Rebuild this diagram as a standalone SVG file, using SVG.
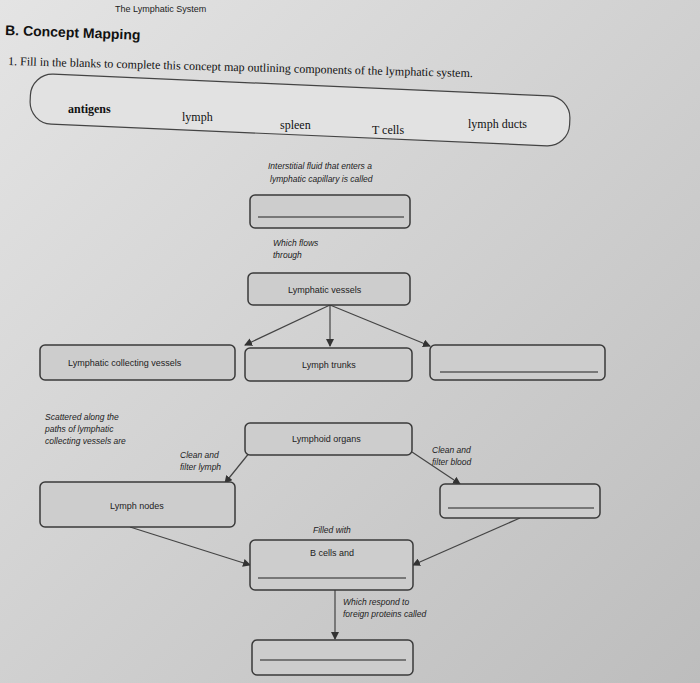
<svg xmlns="http://www.w3.org/2000/svg" width="700" height="683" viewBox="0 0 700 683">
<defs>
<linearGradient id="bg" x1="0" y1="0" x2="1" y2="1"><stop offset="0" stop-color="#e4e4e4"/><stop offset="1" stop-color="#bdbdbd"/></linearGradient>
<marker id="ah" markerWidth="8" markerHeight="8" refX="7" refY="4" orient="auto" markerUnits="userSpaceOnUse"><path d="M0,0 L8,4 L0,8 z" fill="#333"/></marker>
</defs>
<style>
.box{fill:#cdcdcd;stroke:#3a3a3a;stroke-width:1.5}
.t{font-family:"Liberation Sans",Arial,sans-serif;font-size:9px;fill:#222}
.i{font-family:"Liberation Sans",Arial,sans-serif;font-size:8.5px;font-style:italic;fill:#222}
.w{font-family:"Liberation Serif",serif;font-size:12px;fill:#111}
.bl{stroke:#222;stroke-width:1.2}
.c{stroke:#444;stroke-width:1.2;fill:none}
</style>
<rect width="700" height="683" fill="url(#bg)"/>
<text x="115" y="12" class="t" font-size="10">The Lymphatic System</text>
<text x="5" y="35" font-family="Liberation Sans,sans-serif" font-size="14" font-weight="bold" fill="#111" transform="rotate(2 5 35)">B. Concept Mapping</text>
<text x="8" y="65" class="w" font-size="12" transform="rotate(1.5 8 65)">1.  Fill in the blanks to complete this concept map outlining components of the lymphatic system.</text>
<g id="wordbank">
<rect x="30" y="85" width="540" height="50" rx="22" fill="#e2e2e2" stroke="#444" stroke-width="1.2" transform="rotate(2.5 300 110)"/>
<text x="68" y="113" class="w" font-weight="bold">antigens</text>
<text x="182" y="121" class="w">lymph</text>
<text x="280" y="129" class="w">spleen</text>
<text x="372" y="134" class="w">T cells</text>
<text x="468" y="128" class="w">lymph ducts</text>
</g>
<g id="connectors">
<line class="c" x1="330" y1="305" x2="245" y2="345" marker-end="url(#ah)"/>
<line class="c" x1="330" y1="305" x2="330" y2="346" marker-end="url(#ah)"/>
<line class="c" x1="330" y1="305" x2="430" y2="346" marker-end="url(#ah)"/>
<line class="c" x1="250" y1="452" x2="225" y2="483" marker-end="url(#ah)"/>
<line class="c" x1="412" y1="452" x2="460" y2="484" marker-end="url(#ah)"/>
<line class="c" x1="130" y1="527" x2="250" y2="565" marker-end="url(#ah)"/>
<line class="c" x1="520" y1="518" x2="413" y2="565" marker-end="url(#ah)"/>
<line class="c" x1="335" y1="590" x2="335" y2="639" marker-end="url(#ah)"/>
</g>
<text x="268" y="169" class="i">Interstitial fluid that enters a</text>
<text x="270" y="182" class="i">lymphatic capillary is called</text>
<g id="n1"><rect class="box" x="250" y="195" width="160" height="33" rx="5"/><line class="bl" x1="258" y1="217" x2="404" y2="217"/></g>
<text x="273" y="246" class="i">Which flows</text>
<text x="273" y="258" class="i">through</text>
<g id="n2"><rect class="box" x="248" y="273" width="162" height="32" rx="5"/><text x="288" y="293" class="t">Lymphatic vessels</text></g>
<g id="n3"><rect class="box" x="40" y="345" width="195" height="35" rx="5"/><text x="68" y="366" class="t">Lymphatic collecting vessels</text></g>
<g id="n4"><rect class="box" x="245" y="348" width="167" height="33" rx="5"/><text x="302" y="368" class="t">Lymph trunks</text></g>
<g id="n5"><rect class="box" x="430" y="345" width="175" height="35" rx="5"/><line class="bl" x1="440" y1="372" x2="598" y2="372"/></g>
<text x="45" y="420" class="i">Scattered along the</text>
<text x="45" y="432" class="i">paths of lymphatic</text>
<text x="45" y="444" class="i">collecting vessels are</text>
<g id="n6"><rect class="box" x="245" y="423" width="167" height="32" rx="5"/><text x="292" y="442" class="t">Lymphoid organs</text></g>
<text x="180" y="458" class="i">Clean and</text>
<text x="180" y="470" class="i">filter lymph</text>
<text x="432" y="453" class="i">Clean and</text>
<text x="432" y="465" class="i">filter blood</text>
<g id="n7"><rect class="box" x="40" y="482" width="195" height="45" rx="5"/><text x="110" y="509" class="t">Lymph nodes</text></g>
<g id="n8"><rect class="box" x="440" y="484" width="160" height="34" rx="5"/><line class="bl" x1="448" y1="508" x2="594" y2="508"/></g>
<text x="313" y="533" class="i">Filled with</text>
<g id="n9"><rect class="box" x="250" y="540" width="163" height="50" rx="5"/><text x="310" y="556" class="t">B cells and</text><line class="bl" x1="258" y1="578" x2="406" y2="578"/></g>
<text x="343" y="605" class="i">Which respond to</text>
<text x="343" y="617" class="i">foreign proteins called</text>
<g id="n10"><rect class="box" x="252" y="640" width="161" height="35" rx="5"/><line class="bl" x1="260" y1="660" x2="406" y2="660"/></g>
</svg>
